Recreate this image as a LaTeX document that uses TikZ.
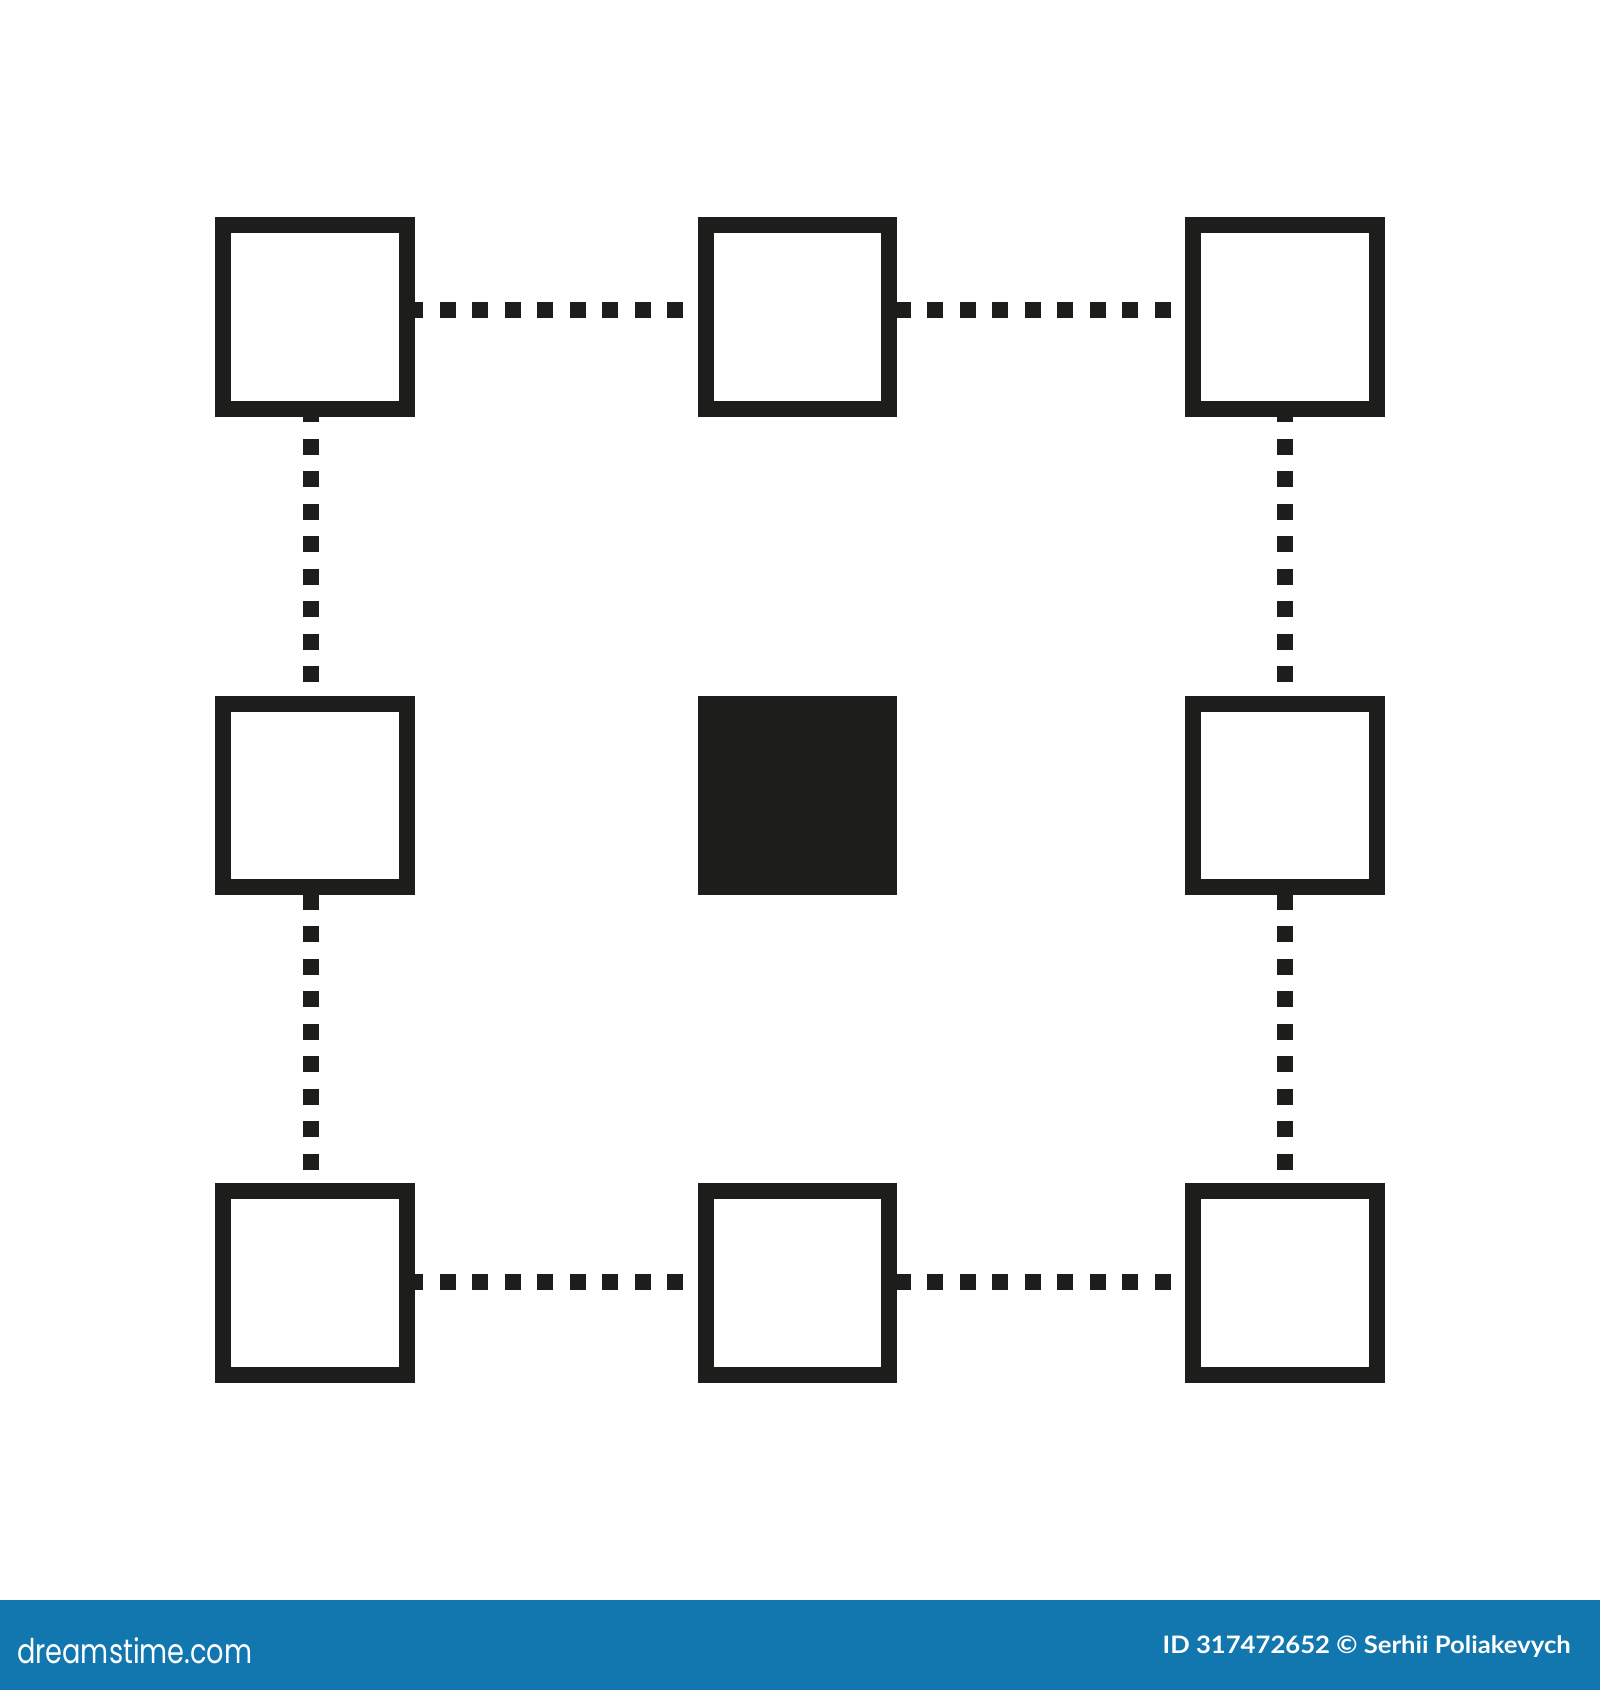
\documentclass[tikz,border=0pt]{standalone}
\usepackage{graphicx}
\usepackage{fontspec}
\setmainfont{Lato}
\newfontfamily\logofont{Poppins}
\newfontfamily\creditfont{Lato}
\usetikzlibrary{backgrounds}
\definecolor{ink}{RGB}{29,29,27}
\definecolor{banner}{RGB}{18,119,174}
\tikzset{
  box/.style={draw=ink, line width=16pt, fill=white, minimum size=183.5pt, inner sep=0pt, shape=rectangle},
  solidbox/.style={fill=ink, minimum size=199pt, inner sep=0pt, shape=rectangle},
  dotline/.style={draw=ink, line width=16pt, dash pattern=on 16pt off 16.5pt},
}
\begin{document}
\begin{tikzpicture}[x=1pt,y=-1pt]
\useasboundingbox (0,0) rectangle (1600,1690);
% boxes
\node[box] (b11) at (315.2,317) {};
\node[box] (b12) at (797.5,317) {};
\node[box] (b13) at (1285,317) {};
\node[box] (b21) at (315.2,795.5) {};
\node[solidbox] (b22) at (797.5,795.5) {};
\node[box] (b23) at (1285,795.5) {};
\node[box] (b31) at (315.2,1283) {};
\node[box] (b32) at (797.5,1283) {};
\node[box] (b33) at (1285,1283) {};
% connectors behind boxes (each pattern starts with a dash hidden inside the first box)
\begin{scope}[on background layer]
\fill[white] (0,0) rectangle (1600,1600);
\draw[dotline] ([shift={(-7.5pt,7.5pt)}]b11.east) -- ([yshift=7.5pt]b13.west);
\draw[dotline] ([shift={(-7.5pt,1pt)}]b31.east) -- ([yshift=1pt]b33.west);
\draw[dotline] ([shift={(-4pt,10.5pt)}]b11.south) -- ([xshift=-4pt]b31.north);
\draw[dotline] ([yshift=10.5pt]b13.south) -- (b33.north);
\end{scope}
% banner
\fill[banner] (0,1600) rectangle (1600,1690);
\node[anchor=base west, inner sep=0pt, text=white, font=\logofont\fontsize{34}{34}\selectfont] (logo) at (17,1663) {\scalebox{0.8}[1]{dreamstime.com}};
\node[anchor=base east, inner sep=0pt, text=white, font=\creditfont\bfseries\fontsize{24}{24}\selectfont] (credit) at (1571,1653) {\scalebox{1.07}[1]{ID 317472652 © Serhii Poliakevych}};
\end{tikzpicture}
\end{document}
